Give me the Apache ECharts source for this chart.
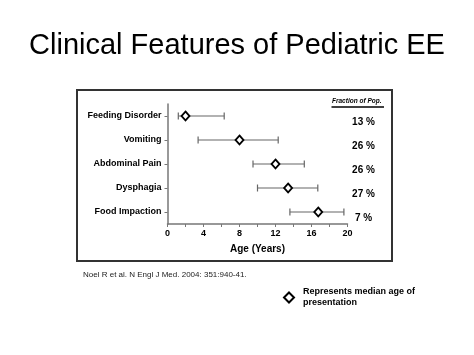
<!DOCTYPE html>
<html>
<head>
<meta charset="utf-8">
<script src="https://cdn.jsdelivr.net/npm/echarts@6/dist/echarts.min.js"></script>
<style>
html,body{margin:0;padding:0;background:#fff;}
#chart{width:474px;height:355px;}
</style>
</head>
<body>
<div id="chart"></div>
<script>
// ---- data ----
const categories = ['Feeding Disorder', 'Vomiting', 'Abdominal Pain', 'Dysphagia', 'Food Impaction'];
const medianAge = [2.0, 8.0, 12.0, 13.4, 16.75];
const rangeLow = [1.2, 3.4, 9.5, 10.0, 13.6];
const rangeHigh = [6.3, 12.3, 15.2, 16.7, 19.6];
const fractionLabels = ['13 %', '26 %', '26 %', '27 %', '7 %'];
const xMin = 0, xMax = 20, xInterval = 4;

const FONT = 'Liberation Sans, Arial, Helvetica, sans-serif';
const chart = echarts.init(document.getElementById('chart'), null, {renderer: 'canvas'});

const option = {
  backgroundColor: '#fff',
  animation: false,
  title: {
    text: 'Clinical Features of Pediatric EE',
    left: 'center',
    top: 26,
    textStyle: {fontFamily: FONT, fontSize: 29, fontWeight: 'normal', color: '#000'}
  },
  legend: {
    left: 283, top: 286.5, padding: 0,
    itemWidth: 10, itemHeight: 10,
    itemStyle: {color: '#fff', borderColor: '#000', borderWidth: 2},
    textStyle: {fontFamily: FONT, fontSize: 9, fontWeight: 'bold', color: '#000', lineHeight: 11, padding: [0, 0, 0, 4]},
    data: [{name: 'Represents median age of\npresentation', icon: 'diamond'}]
  },
  grid: {left: 167.5, right: 126.5, top: 104, bottom: 131, containLabel: false},
  xAxis: {
    type: 'value', min: xMin, max: xMax, interval: xInterval,
    name: 'Age (Years)', nameLocation: 'middle', nameGap: 20,
    nameTextStyle: {fontFamily: FONT, fontSize: 10, fontWeight: 'bold', color: '#000'},
    axisLine: {show: true, lineStyle: {color: '#777', width: 1.5}},
    axisTick: {show: true, length: 3, lineStyle: {color: '#777'}},
    minorTick: {show: true, splitNumber: 2, length: 3, lineStyle: {color: '#777'}},
    splitLine: {show: false},
    axisLabel: {fontFamily: FONT, fontSize: 9, fontWeight: 'bold', color: '#000', margin: 5}
  },
  yAxis: [{
    type: 'category', data: categories, inverse: true,
    axisLine: {show: true, lineStyle: {color: '#777', width: 1.5}},
    axisTick: {show: true, alignWithLabel: true, length: 3, lineStyle: {color: '#777'}},
    splitLine: {show: false},
    axisLabel: {interval: 0, fontFamily: FONT, fontSize: 9, fontWeight: 'bold', color: '#000', margin: 6}
  }, {
    type: 'category', data: fractionLabels, inverse: true, position: 'right',
    axisLine: {show: false}, axisTick: {show: false}, splitLine: {show: false},
    axisLabel: {interval: 0, align: 'center', verticalAlign: 'top', lineHeight: 13, margin: 16,
      fontFamily: FONT, fontSize: 10, fontWeight: 'bold', color: '#000'}
  }],
  graphic: [
    {type: 'rect', shape: {x: 77, y: 90, width: 315, height: 171},
     style: {fill: 'none', stroke: '#333', lineWidth: 2}, z: 0},
    {type: 'text', left: 332, top: 98,
     style: {text: 'Fraction of Pop.', font: 'italic bold 6.5px ' + FONT, fill: '#000'}},
    {type: 'line', shape: {x1: 331.5, y1: 107, x2: 384, y2: 107},
     style: {stroke: '#000', lineWidth: 1.5}},
    {type: 'text', left: 83, top: 271,
     style: {text: 'Noel R et al. N Engl J Med. 2004: 351:940-41.', font: '8px ' + FONT, fill: '#222'}}
  ],
  series: [{
    type: 'custom',
    name: 'range',
    xAxisIndex: 0, yAxisIndex: 0,
    encode: {x: [1, 2], y: 0},
    data: categories.map((c, i) => [i, rangeLow[i], rangeHigh[i]]),
    renderItem: function (params, api) {
      const idx = api.value(0);
      const lo = api.coord([api.value(1), idx]);
      const hi = api.coord([api.value(2), idx]);
      const st = {stroke: '#666', lineWidth: 1.2};
      const c = 3.5;
      return {type: 'group', children: [
        {type: 'line', shape: {x1: lo[0], y1: lo[1], x2: hi[0], y2: hi[1]}, style: st},
        {type: 'line', shape: {x1: lo[0], y1: lo[1] - c, x2: lo[0], y2: lo[1] + c}, style: st},
        {type: 'line', shape: {x1: hi[0], y1: hi[1] - c, x2: hi[0], y2: hi[1] + c}, style: st}
      ]};
    },
    z: 2
  }, {
    type: 'scatter',
    name: 'Represents median age of\npresentation',
    xAxisIndex: 0, yAxisIndex: 0,
    symbol: 'diamond', symbolSize: [8, 9],
    itemStyle: {color: '#fff', borderColor: '#000', borderWidth: 1.8, opacity: 1},
    data: medianAge.map((v, i) => [v, i]),
    z: 3
  }]
};
chart.setOption(option);
</script>
</body>
</html>
